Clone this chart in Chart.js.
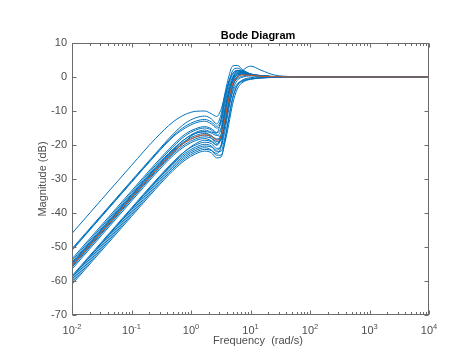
<!DOCTYPE html>
<html><head><meta charset="utf-8">
<script src="https://cdn.jsdelivr.net/npm/chart.js@4/dist/chart.umd.min.js"></script>
<style>html,body{margin:0;padding:0;background:#fff}#wrap{width:474px;height:355px}</style>
</head><body><div id="wrap"><canvas id="c" width="474" height="355"></canvas></div>
<script>
// Frequencies (rad/s) at which magnitudes were read
const freqs = [0.01, 0.1, 0.25, 0.5, 0.8, 1.2, 1.7, 2.2, 2.7, 3.2, 3.7, 4.3, 5, 6, 7.5, 10, 15, 25, 50, 100, 10000];
// Nominal response (dB)
const nominal = [-55.5, -35.5, -27.6, -22.1, -19.2, -17.6, -17, -17.5, -18.6, -17.5, -12.5, -6.5, -2, 0, 0.6, 0.5, 0.2, 0.1, 0, 0, 0];
// Sampled responses (dB)
const s01 = [-46, -26, -18.2, -13.2, -11.0, -10.1, -10.0, -10.8, -11.6, -9.5, -5.5, -1.5, 1.8, 2.6, 1.8, 0.9, 0.4, 0.15, 0.05, 0, 0];
const s02 = [-50.5, -30.5, -22.6, -16.8, -13.6, -12.0, -11.5, -12.3, -13.8, -11, -5, 0, 3.2, 3.4, 2, 0.8, 0.3, 0.1, 0, 0, 0];
const s03 = [-51, -31, -23.1, -17.6, -15, -13.5, -13, -13.8, -15, -13.5, -8, -3, 0, 1.5, 1.5, 0.8, 0.3, 0.1, 0, 0, 0];
const s04 = [-53.5, -33.5, -25.6, -20, -16.8, -15.2, -14.6, -15.2, -16.3, -15, -9.5, -4, -1, 0.5, 1, 0.8, 0.4, 0.1, 0, 0, 0];
const s05 = [-54, -34, -26.1, -20.5, -17.3, -15.6, -15, -15.6, -17, -17.5, -14, -8, -3, 0, 2, 3.2, 2, 0.6, 0.1, 0, 0];
const s06 = [-54.5, -34.5, -26.6, -21.2, -18.2, -16.6, -16, -16.5, -17.2, -15.5, -10, -4.5, -1.5, 0, 0.8, 0.7, 0.3, 0.1, 0, 0, 0];
const s07 = [-55, -35, -27.1, -21.7, -18.8, -17.2, -16.6, -17.2, -18.5, -17, -11.5, -5, -1, 1, 1.2, 0.7, 0.3, 0.1, 0, 0, 0];
const s08 = [-55.3, -35.3, -27.4, -22, -19.2, -17.7, -17.1, -17.4, -18.2, -17.5, -13, -7, -2.5, -0.5, 0.3, 0.5, 0.3, 0.1, 0, 0, 0];
const s09 = [-55.7, -35.7, -27.8, -22.2, -19, -16.5, -16.2, -18, -19.5, -18, -12, -5, -0.5, 1.8, 1.8, 0.9, 0.4, 0.1, 0, 0, 0];
const s10 = [-56, -36, -28.1, -22.6, -19.8, -18.2, -17.6, -18, -19, -18.5, -14.5, -9, -4.5, -2, -1, -0.5, -0.2, -0.1, 0, 0, 0];
const s11 = [-56.5, -36.5, -28.6, -23.1, -20.3, -18.7, -18.1, -18.8, -20, -18, -11.5, -5.5, -1.5, 0.6, 1, 0.6, 0.3, 0.1, 0, 0, 0];
const s12 = [-58.5, -38.5, -30.6, -25, -21.8, -20, -19.2, -19.6, -21, -20.5, -16, -9.5, -4, -1, 0, 0.3, 0.2, 0.1, 0, 0, 0];
const s13 = [-59, -39, -31.1, -25.5, -22.4, -20.6, -19.8, -20.3, -22, -21.8, -18, -12, -6, -2.5, -1.2, -0.6, -0.3, -0.1, 0, 0, 0];
const s14 = [-59.5, -39.5, -31.6, -26, -22.9, -21.1, -20.3, -20.6, -21.5, -20, -14, -7.5, -2.5, 0, 0.8, 0.6, 0.3, 0.1, 0, 0, 0];
const s15 = [-60, -40, -32.1, -26.5, -23.4, -21.6, -20.8, -21.5, -23, -23, -19.5, -14, -8, -3.5, -1.5, -0.7, -0.3, -0.1, 0, 0, 0];
const s16 = [-60.5, -40.5, -32.6, -27, -23.9, -22.1, -21.3, -21.6, -22.5, -20.5, -13.5, -6, -1, 1.3, 1.5, 0.8, 0.3, 0.1, 0, 0, 0];
const s17 = [-61, -41, -33.1, -27.5, -24.4, -22.6, -21.8, -22.3, -23.8, -23.5, -19, -12.5, -6.5, -2.5, -0.8, -0.2, 0, 0, 0, 0, 0];
const s18 = [-54.8, -34.8, -26.9, -21.4, -18.2, -16.3, -15.6, -16.2, -16.5, -12.5, -6, -1.5, 1, 2, 1.6, 0.8, 0.3, 0.1, 0, 0, 0];
const s19 = [-50.8, -30.8, -22.9, -17.3, -14.5, -13, -12.5, -13.2, -14.5, -12.5, -7, -2, 0.8, 1.8, 1.4, 0.7, 0.3, 0.1, 0, 0, 0];
const s20 = [-58.8, -38.8, -30.9, -25.2, -21.8, -19.6, -18.6, -19, -20, -17, -10.5, -4.5, -0.8, 1, 1.2, 0.6, 0.3, 0.1, 0, 0, 0];
const samples = [s01, s02, s03, s04, s05, s06, s07, s08, s09, s10, s11, s12, s13, s14, s15, s16, s17, s18, s19, s20];
// Axis ticks
const xTickExponents = [-2, -1, 0, 1, 2, 3, 4];
const yTickValues = [10, 0, -10, -20, -30, -40, -50, -60, -70];
const titleText = 'Bode Diagram';
const xLabelText = 'Frequency  (rad/s)';
const yLabelText = 'Magnitude (dB)';

const FONT = '"Liberation Sans", Arial, Helvetica, sans-serif';
const BLUE = '#0072BD', RED = '#D95319', AXIS = '#6b6b6b', TXT = '#4d4d4d';

const toPts = arr => arr.map((v, i) => ({x: freqs[i], y: v}));
const datasets = [{data: toPts(nominal), borderColor: RED, borderWidth: 1}]
  .concat(samples.map(s => ({data: toPts(s), borderColor: BLUE, borderWidth: 1})));
datasets.forEach(d => { d.pointRadius = 0; d.cubicInterpolationMode = 'monotone'; d.fill = false; });

const decor = {
  id: 'decor',
  afterDraw(chart) {
    const ctx = chart.ctx, a = chart.chartArea, xs = chart.scales.x, ys = chart.scales.y;
    const L = Math.round(a.left) + 0.5, R = Math.round(a.right) - 0.5, T = Math.round(a.top) + 0.5, B = Math.round(a.bottom) - 0.5;
    ctx.save();
    ctx.strokeStyle = AXIS; ctx.lineWidth = 1;
    ctx.strokeRect(L, T, R - L, B - T);
    ctx.beginPath();
    // x ticks (major + minor), inward on bottom and top
    for (let e = -2; e <= 4; e++) {
      for (let k = 1; k <= 9; k++) {
        const v = k * Math.pow(10, e);
        if (v > 10000) break;
        const px = Math.round(xs.getPixelForValue(v)) + 0.5;
        const len = k === 1 ? 4 : 2.5;
        ctx.moveTo(px, B); ctx.lineTo(px, B - len);
        ctx.moveTo(px, T); ctx.lineTo(px, T + len);
      }
    }
    // y ticks inward left/right
    yTickValues.forEach(v => {
      const py = Math.round(ys.getPixelForValue(v)) + 0.5;
      ctx.moveTo(L, py); ctx.lineTo(L + 4, py);
      ctx.moveTo(R, py); ctx.lineTo(R - 4, py);
    });
    ctx.stroke();
    // x tick labels 10^e
    ctx.fillStyle = TXT; ctx.textBaseline = 'alphabetic'; ctx.textAlign = 'left';
    xTickExponents.forEach(e => {
      const px = xs.getPixelForValue(Math.pow(10, e));
      ctx.font = '11px ' + FONT;
      const wb = ctx.measureText('10').width;
      ctx.font = '7.5px ' + FONT;
      const es = String(e).replace('-', '-');
      const we = ctx.measureText(es).width;
      const x0 = px - (wb + we) / 2;
      ctx.font = '11px ' + FONT;
      ctx.fillText('10', x0, 333.5);
      ctx.font = '7.5px ' + FONT;
      ctx.fillText(es, x0 + wb, 328.5);
    });
    // axis labels
    ctx.font = '11px ' + FONT; ctx.textAlign = 'center';
    ctx.fillText(xLabelText, 258, 343.5);
    ctx.save();
    ctx.translate(45.5, 179); ctx.rotate(-Math.PI / 2);
    ctx.fillText(yLabelText, 0, 0);
    ctx.restore();
    // title
    ctx.fillStyle = '#000'; ctx.font = 'bold 11px ' + FONT;
    ctx.fillText(titleText, 258, 38.5);
    ctx.restore();
  }
};

new Chart(document.getElementById('c'), {
  type: 'line',
  data: {datasets},
  options: {
    responsive: false, animation: false, devicePixelRatio: 1,
    layout: {padding: {left: 0, right: 45, top: 43, bottom: 40}},
    plugins: {legend: {display: false}, tooltip: {enabled: false}, title: {display: false}},
    scales: {
      x: {
        type: 'logarithmic', min: 0.01, max: 10000,
        grid: {display: false, drawTicks: false}, border: {display: false},
        ticks: {display: false},
        afterFit(s) { s.height = 0; }
      },
      y: {
        type: 'linear', min: -70, max: 10,
        grid: {display: false, drawTicks: false}, border: {display: false},
        afterBuildTicks(s) { s.ticks = yTickValues.map(v => ({value: v})); },
        ticks: {padding: 5, color: TXT, font: {family: FONT, size: 11}},
        afterFit(s) { s.width = 72; }
      }
    }
  },
  plugins: [decor]
});
</script></body></html>
